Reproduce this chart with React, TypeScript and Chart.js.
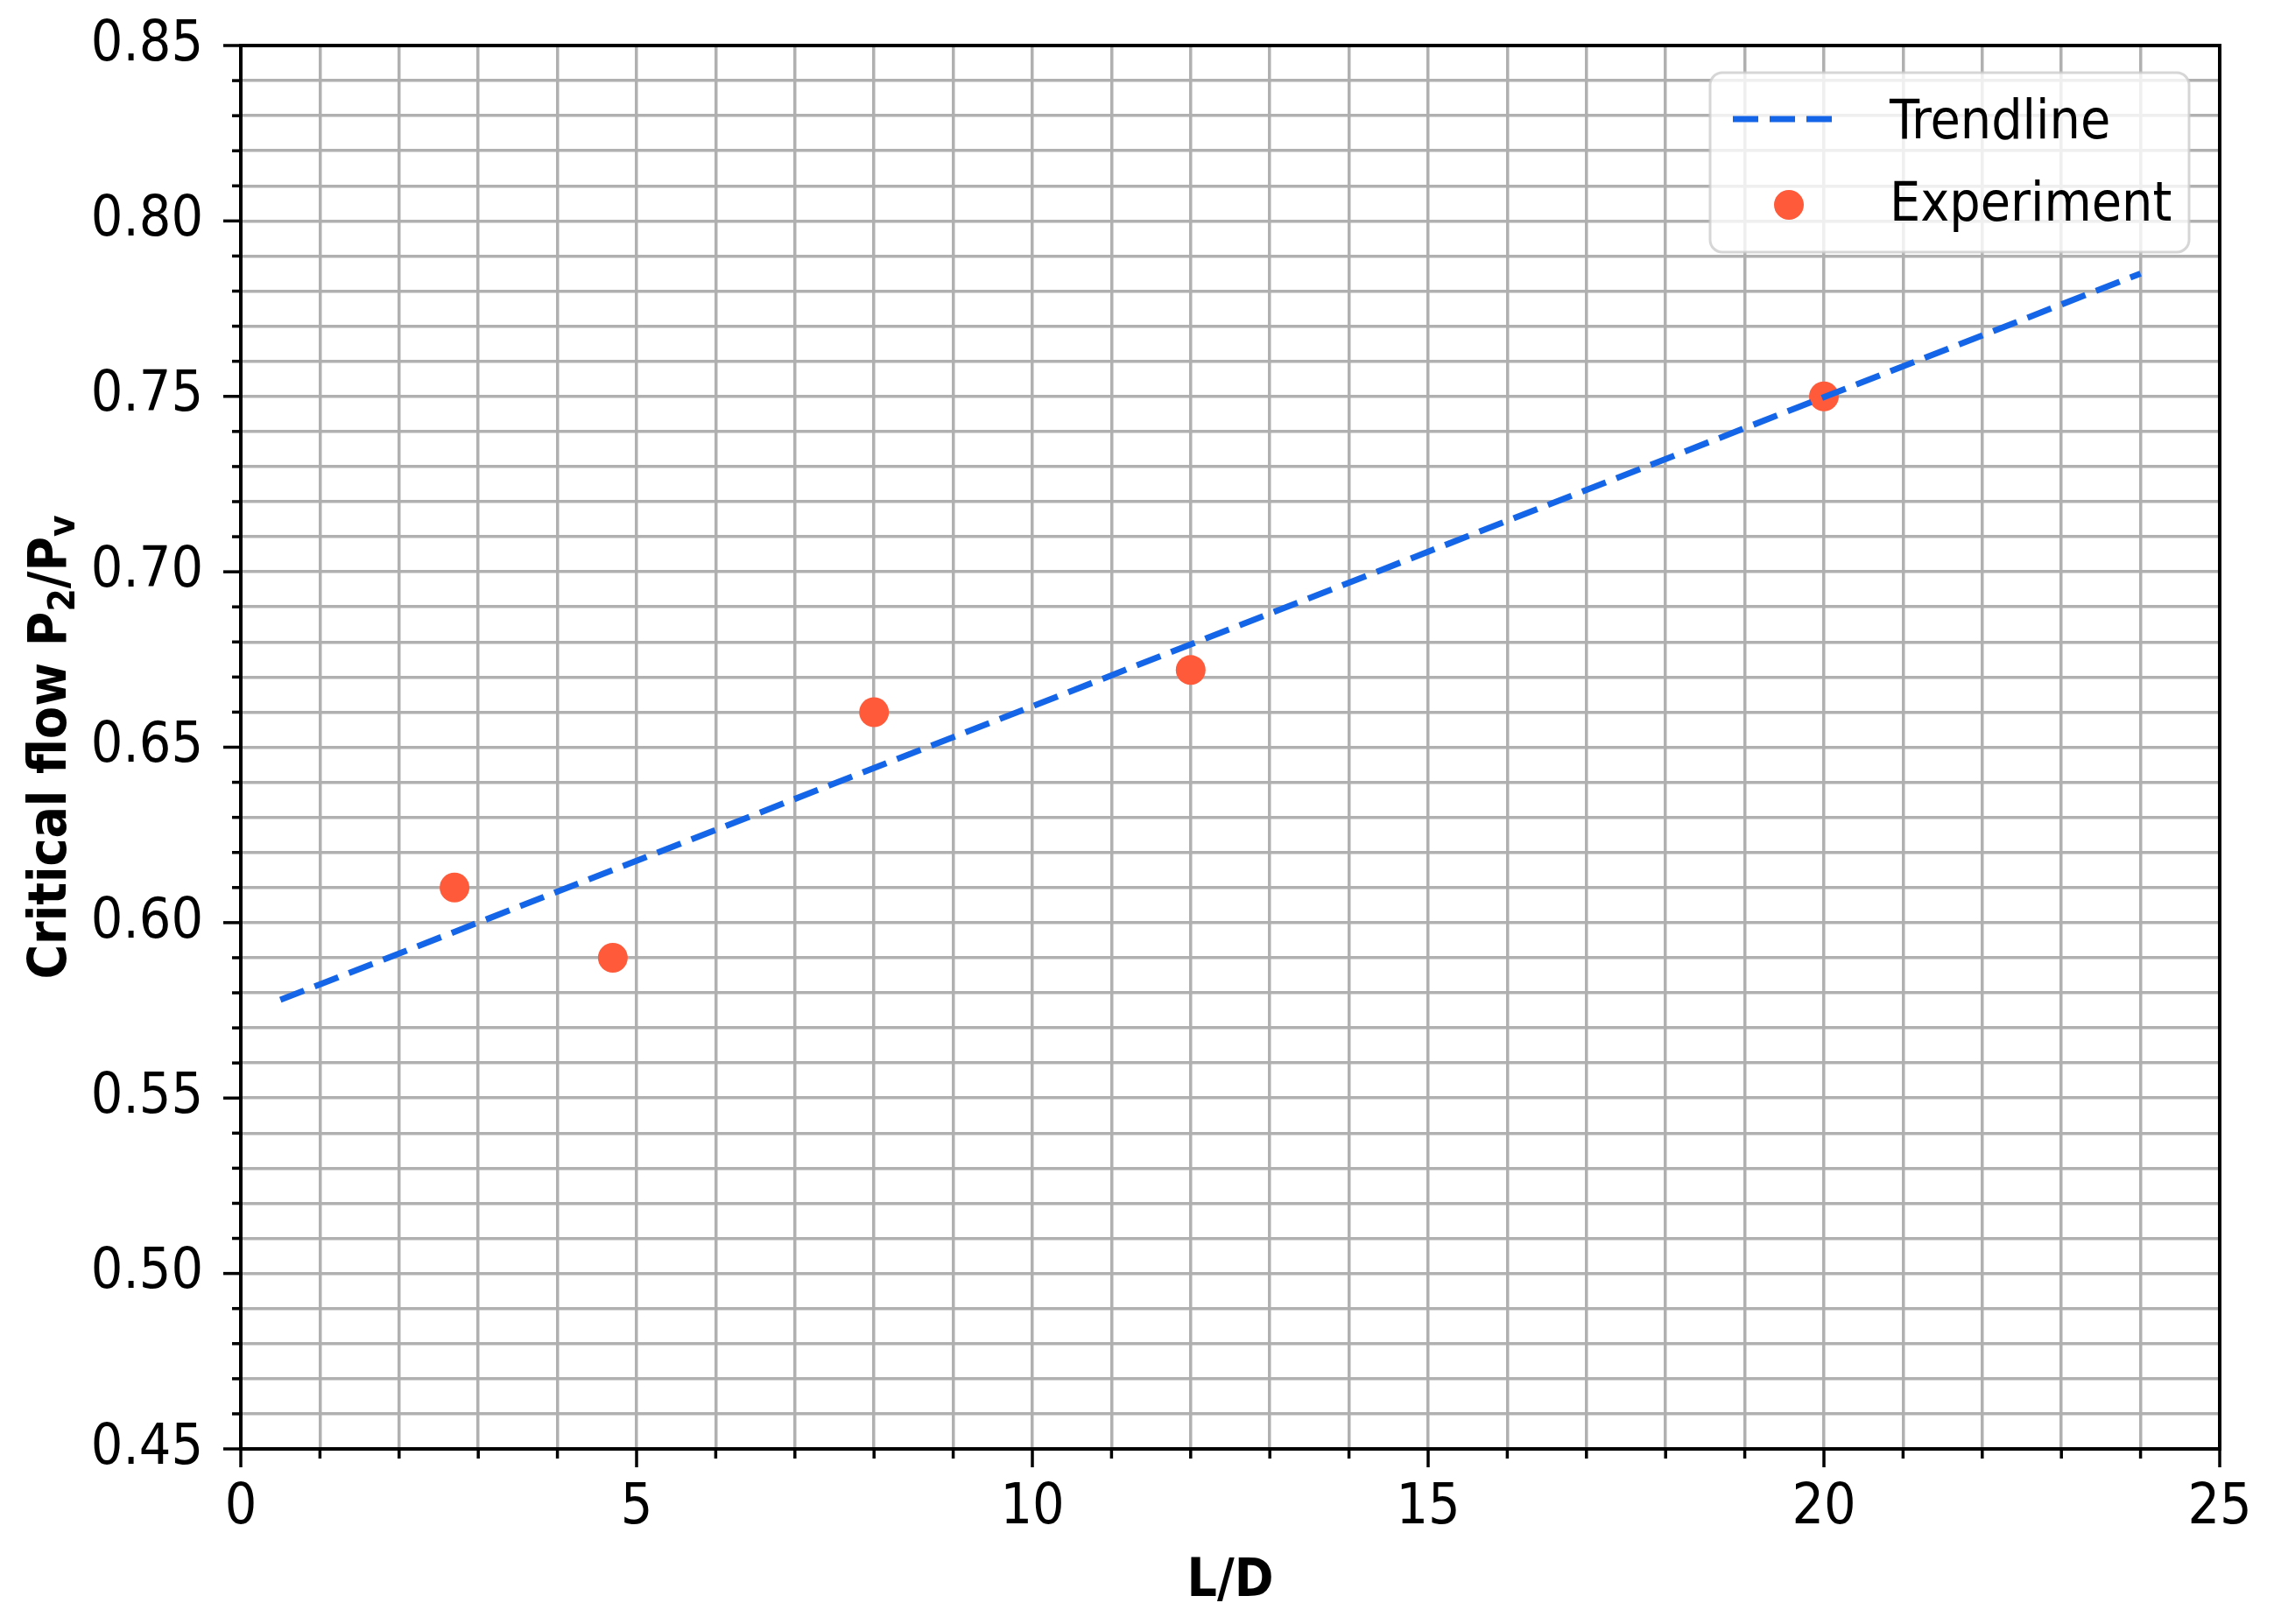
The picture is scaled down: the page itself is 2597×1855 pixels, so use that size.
import React, { useEffect, useRef } from "react";
import { Chart, registerables } from "chart.js";

Chart.register(...registerables);

// ---- data ----
const experimentLD = [2.7, 4.7, 8, 12, 20];
const experimentRatio = [0.61, 0.59, 0.66, 0.672, 0.75];
const trendLD = [0.5, 24];
const trendRatio = [0.578, 0.785];
const seriesLabels = ["Trendline", "Experiment"];
const xAxisTitle = "L/D";
const yTitleParts = [
  { text: "Critical flow P", sub: false },
  { text: "2", sub: true },
  { text: "/P", sub: false },
  { text: "v", sub: true },
];
const xRange = [0, 25];
const yRange = [0.45, 0.85];

const FONT = "'DejaVu Sans Condensed', 'DejaVu Sans', sans-serif";
const LINE_COLOR = "#1565e8";
const POINT_COLOR = "#ff5a3a";
const GRID_COLOR = "#b0b0b0";

const W = 2597;
const H = 1855;
const AREA = { left: 275, top: 52, right: 2535, bottom: 1655 };

const decorPlugin = {
  id: "decor",
  afterDraw(chart: any) {
    const ctx = chart.ctx as CanvasRenderingContext2D;
    const { left, right, top, bottom } = chart.chartArea;
    const xs = chart.scales.x;
    const ys = chart.scales.y;
    ctx.save();
    // tick marks
    ctx.strokeStyle = "#000";
    ctx.lineWidth = 3.5;
    ctx.lineCap = "butt";
    xs.ticks.forEach((t: any) => {
      const px = xs.getPixelForValue(t.value);
      const major = Math.abs(t.value % 5) < 1e-9;
      const len = major ? 21 : 11;
      ctx.beginPath();
      ctx.moveTo(px, bottom);
      ctx.lineTo(px, bottom + len);
      ctx.stroke();
    });
    ys.ticks.forEach((t: any) => {
      const py = ys.getPixelForValue(t.value);
      const major = Math.abs(t.value * 20 - Math.round(t.value * 20)) < 1e-6;
      const len = major ? 20 : 10;
      ctx.beginPath();
      ctx.moveTo(left, py);
      ctx.lineTo(left - len, py);
      ctx.stroke();
    });
    // spines
    ctx.lineWidth = 4;
    ctx.strokeRect(left, top, right - left, bottom - top);

    // legend
    const bx = 1953, by = 83, bw = 547, bh = 205;
    ctx.beginPath();
    (ctx as any).roundRect(bx, by, bw, bh, 14);
    ctx.fillStyle = "rgba(255,255,255,0.8)";
    ctx.fill();
    ctx.strokeStyle = "rgba(204,204,204,0.8)";
    ctx.lineWidth = 3;
    ctx.stroke();

    const dsLine = chart.data.datasets[0];
    const dsPts = chart.data.datasets[1];
    ctx.strokeStyle = dsLine.borderColor;
    ctx.lineWidth = dsLine.borderWidth;
    ctx.setLineDash(dsLine.borderDash);
    ctx.beginPath();
    ctx.moveTo(1979, 136);
    ctx.lineTo(2105, 136);
    ctx.stroke();
    ctx.setLineDash([]);
    ctx.fillStyle = dsPts.backgroundColor;
    ctx.beginPath();
    ctx.arc(2043, 234, dsPts.pointRadius, 0, Math.PI * 2);
    ctx.fill();

    ctx.fillStyle = "#000";
    ctx.font = `62px ${FONT}`;
    ctx.textAlign = "left";
    ctx.textBaseline = "alphabetic";
    ctx.fillText(dsLine.label, 2158, 158);
    ctx.fillText(dsPts.label, 2158, 252);

    // x title
    ctx.font = `bold 60px ${FONT}`;
    ctx.textAlign = "center";
    ctx.fillText(xAxisTitle, (left + right) / 2, 1823);

    // y title with subscripts
    ctx.translate(75, (top + bottom) / 2);
    ctx.rotate(-Math.PI / 2);
    const mainF = `bold 60px ${FONT}`;
    const subF = `bold 42px ${FONT}`;
    let total = 0;
    yTitleParts.forEach((p) => {
      ctx.font = p.sub ? subF : mainF;
      total += ctx.measureText(p.text).width;
    });
    let cx = -total / 2;
    ctx.textAlign = "left";
    yTitleParts.forEach((p) => {
      ctx.font = p.sub ? subF : mainF;
      ctx.fillText(p.text, cx, p.sub ? 10 : 0);
      cx += ctx.measureText(p.text).width;
    });
    ctx.restore();
  },
};

export default function App() {
  const ref = useRef<HTMLCanvasElement>(null);
  useEffect(() => {
    document.body.style.margin = "0";
    const trendData = trendLD.map((x, i) => ({ x, y: trendRatio[i] }));
    const expData = experimentLD.map((x, i) => ({ x, y: experimentRatio[i] }));
    const chart = new Chart(ref.current as HTMLCanvasElement, {
      type: "scatter",
      data: {
        datasets: [
          {
            type: "line",
            label: seriesLabels[0],
            data: trendData,
            borderColor: LINE_COLOR,
            backgroundColor: LINE_COLOR,
            borderWidth: 7,
            borderDash: [29, 13],
            borderCapStyle: "butt",
            pointRadius: 0,
            fill: false,
            tension: 0,
            order: 0,
          } as any,
          {
            type: "scatter",
            label: seriesLabels[1],
            data: expData,
            backgroundColor: POINT_COLOR,
            borderColor: POINT_COLOR,
            borderWidth: 0,
            pointRadius: 17,
            pointHoverRadius: 17,
            order: 1,
          } as any,
        ],
      },
      options: {
        animation: false,
        responsive: true,
        maintainAspectRatio: false,
        devicePixelRatio: 1,
        layout: { padding: { left: 0, top: AREA.top, right: W - AREA.right, bottom: 0 } },
        plugins: { legend: { display: false }, tooltip: { enabled: false } },
        scales: {
          x: {
            type: "linear",
            min: xRange[0],
            max: xRange[1],
            afterFit: (s: any) => {
              s.height = H - AREA.bottom;
              s.paddingLeft = 0;
              s.paddingRight = 0;
            },
            grid: { color: GRID_COLOR, lineWidth: 3.5, drawTicks: false },
            border: { display: false },
            ticks: {
              stepSize: 1,
              autoSkip: false,
              maxRotation: 0,
              padding: 30,
              color: "#000",
              font: { family: FONT, size: 64 },
              callback: (v: any) => (Math.abs(v % 5) < 1e-9 ? String(v) : ""),
            },
          },
          y: {
            type: "linear",
            min: yRange[0],
            max: yRange[1],
            afterFit: (s: any) => {
              s.width = AREA.left;
              s.paddingTop = 0;
              s.paddingBottom = 0;
            },
            grid: { color: GRID_COLOR, lineWidth: 3.5, drawTicks: false },
            border: { display: false },
            ticks: {
              stepSize: 0.01,
              autoSkip: false,
              padding: 43,
              color: "#000",
              font: { family: FONT, size: 64 },
              callback: (v: any) =>
                Math.abs(v * 20 - Math.round(v * 20)) < 1e-6 ? Number(v).toFixed(2) : "",
            },
          },
        },
      },
      plugins: [decorPlugin],
    });
    return () => chart.destroy();
  }, []);
  return (
    <div style={{ position: "absolute", left: 0, top: 0, width: W, height: H, background: "#fff" }}>
      <canvas ref={ref} />
    </div>
  );
}
